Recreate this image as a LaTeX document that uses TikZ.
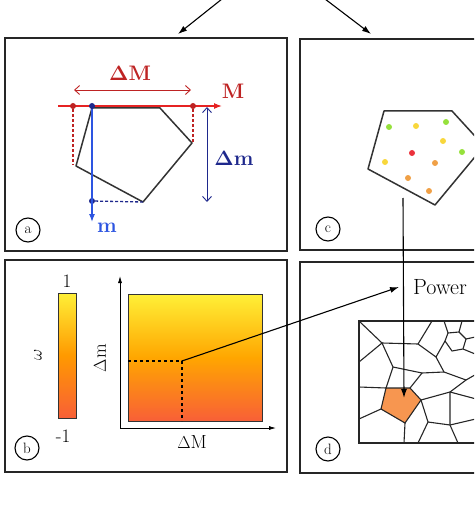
\documentclass[tikz,border=0pt]{standalone}
\usepackage{amsmath}
\usetikzlibrary{calc,arrows.meta}
\definecolor{axisred}{RGB}{230,35,35}
\definecolor{darkred}{RGB}{190,35,35}
\definecolor{axisblue}{RGB}{45,85,225}
\definecolor{darkblue}{RGB}{30,40,140}
\definecolor{cellorange}{RGB}{247,150,80}
\definecolor{hiyellow}{RGB}{255,240,55}
\definecolor{loorange}{RGB}{248,95,55}
\definecolor{seedgreen}{RGB}{150,225,60}
\definecolor{seedyellow}{RGB}{248,215,60}
\definecolor{seedorange}{RGB}{240,160,70}
\definecolor{seedred}{RGB}{235,50,60}
\tikzstyle{panel}=[draw=black!85,line width=1.4pt]
\tikzstyle{tag}=[circle,draw,line width=1.1pt,minimum size=24pt,inner sep=0pt,font=\fontsize{15}{15}\selectfont]
\tikzstyle{poly}=[draw=black!80,line width=1.5pt,line join=round]
\tikzstyle{mesh}=[draw=black!85,line width=1.1pt]
\tikzstyle{dot}=[circle,fill,inner sep=0pt,minimum size=6pt]
\tikzstyle{seed}=[circle,inner sep=0pt,minimum size=6pt]
\tikzstyle{link}=[draw,line width=1.1pt,-{Latex[length=9pt,width=6pt]}]
\tikzstyle{big}=[font=\fontsize{21}{21}\selectfont\bfseries]
\tikzstyle{lbl}=[font=\fontsize{19}{19}\selectfont]

\begin{document}
\begin{tikzpicture}[x=1pt,y=-1pt]
    \useasboundingbox (0,0) rectangle (474,505);
    \clip (0,0) rectangle (474,505);
    % panels
    \draw[panel] (5,38) rectangle (287,251);
    \draw[panel] (300,39) rectangle (490,250);
    \draw[panel] (5,260) rectangle (287,472);
    \draw[panel] (300,262) rectangle (490,473);
    % arrows from above
    \coordinate (srcL) at (222,-1);
    \coordinate (srcR) at (325,-1);
    \coordinate (topA) at (178,34);
    \coordinate (topC) at (371,34);
    \path[link] (srcL) -- (topA);
    \path[link] (srcR) -- (topC);

    % (a) projection of the grain
    \coordinate (p1) at (92,108);
    \coordinate (p2) at (160,108);
    \coordinate (p3) at (192,143);
    \coordinate (p4) at (143,202);
    \coordinate (p5) at (76,166);
    \draw[poly] (p1) -- (p2) -- (p3) -- (p4) -- (p5) -- cycle;
    \coordinate (Mstart) at (58,106);
    \coordinate (Mend) at (222,106);
    \draw[axisred,line width=1.2pt,-{Latex[length=8pt,width=6pt]}] (Mstart) -- (Mend);
    \node[dot,darkred] (Mmin) at (73,106) {};
    \node[dot,darkred] (Mmax) at (193,106) {};
    \coordinate (Mminlow) at (73,165);
    \coordinate (Mmaxlow) at (193,143);
    \draw[darkred,dash pattern=on 3pt off 2pt,line width=1.3pt] (Mmin) -- (Mminlow);
    \draw[darkred,dash pattern=on 3pt off 2pt,line width=1.3pt] (Mmax) -- (Mmaxlow);
    \coordinate (dMl) at (74,90);
    \coordinate (dMr) at (191,90);
    \draw[darkred,line width=0.9pt,{Straight Barb[length=5pt,width=9pt]}-{Straight Barb[length=5pt,width=9pt]}] (dMl) -- (dMr);
    \node[big,darkred] (dMlabel) at (130,73) {$\boldsymbol{\Delta}$M};
    \node[big,darkred] (Mlabel) at (233,91) {M};
    \node[dot,darkblue] (mtop) at (92,106) {};
    \node[dot,darkblue] (mlow) at (92,201) {};
    \coordinate (mend) at (92,222);
    \draw[axisblue,line width=1.2pt,-{Latex[length=8pt,width=6pt]}] (mtop) -- (mend);
    \draw[darkblue,dash pattern=on 3pt off 2pt,line width=1.3pt] (mlow) -- (p4);
    \coordinate (dmt) at (207,107);
    \coordinate (dmb) at (207,202);
    \draw[darkblue,line width=0.9pt,{Straight Barb[length=5pt,width=9pt]}-{Straight Barb[length=5pt,width=9pt]}] (dmt) -- (dmb);
    \node[big,darkblue] (dmlabel) at (234,158) {$\boldsymbol{\Delta}$m};
    \node[big,axisblue] (mlabel) at (107,228) {m};
    \node[tag] (taga) at (28,230) {a};

    % (c) grain with seeds
    \draw[poly] (384,111) -- (452,111) -- (484,146) -- (435,205) -- (368,169) -- cycle;
    \node[seed,fill=seedgreen] (s1) at (389,127) {};
    \node[seed,fill=seedyellow] (s2) at (416,126) {};
    \node[seed,fill=seedgreen] (s3) at (446,122) {};
    \node[seed,fill=seedyellow] (s4) at (443,141) {};
    \node[seed,fill=seedgreen] (s5) at (462,152) {};
    \node[seed,fill=seedred] (s6) at (412,153) {};
    \node[seed,fill=seedyellow] (s7) at (385,162) {};
    \node[seed,fill=seedorange] (s8) at (435,163) {};
    \node[seed,fill=seedorange] (s9) at (408,178) {};
    \node[seed,fill=seedorange] (s10) at (429,191) {};
    \node[tag] (tagc) at (328,229) {c};

    % (b) weight map
    \shade[top color=hiyellow,bottom color=loorange,middle color=orange!80!yellow] (58,293) rectangle (76,418);
    \draw[black!80,line width=1pt] (58,293) rectangle (76,418);
    \node[lbl] (wtop) at (67,281) {1};
    \node[lbl] (wbot) at (63,436) {-1};
    \node[lbl,rotate=90] (omega) at (38,355) {$\omega$};
    \coordinate (origin) at (120,428);
    \coordinate (yend) at (120,276);
    \coordinate (xend) at (276,428);
    \draw[line width=0.8pt,-{Latex[length=7pt,width=4pt]}] (origin) -- (yend);
    \draw[line width=0.8pt,-{Latex[length=7pt,width=4pt]}] (origin) -- (xend);
    \shade[top color=hiyellow,bottom color=loorange,middle color=orange!70!yellow] (128,294) rectangle (262,421);
    \draw[black!80,line width=1pt] (128,294) rectangle (262,421);
    \node[lbl,rotate=90] (ylabel) at (100,358) {$\Delta$m};
    \node[lbl] (xlabel) at (192,442) {$\Delta$M};
    \coordinate (q) at (182,361);
    \draw[dashed,line width=1.4pt] (128,361) -- (q) -- (182,421);
    \node[tag] (tagb) at (27,448) {b};

    % (d) power diagram
    \node[font=\fontsize{22}{22}\selectfont,anchor=west,inner sep=0pt] (power) at (413,287) {Power};
    \coordinate (cell) at (404,398);
    \fill[cellorange] (386,388) -- (410,388) -- (421,400) -- (405,423) -- (381,409) -- cycle;
    \begin{scope}
        \clip (359,321) rectangle (480,443);
        \draw[mesh] (359,321) -- (382,343) -- (359,362);
        \draw[mesh] (382,343) -- (418,344) -- (432,321);
        \draw[mesh] (382,343) -- (393,367) -- (422,373);
        \draw[mesh] (393,367) -- (386,388) -- (359,387);
        \draw[mesh] (386,388) -- (410,388) -- (421,400) -- (405,423) -- (381,409) -- cycle;
        \draw[mesh] (381,409) -- (359,419);
        \draw[mesh] (405,423) -- (404,443);
        \draw[mesh] (421,400) -- (428,422) -- (418,443);
        \draw[mesh] (428,422) -- (450,425) -- (480,418);
        \draw[mesh] (450,425) -- (458,443);
        \draw[mesh] (410,388) -- (422,373) -- (444,372);
        \draw[mesh] (418,344) -- (436,357) -- (445,341);
        \draw[mesh] (436,357) -- (444,372) -- (466,380) -- (480,372);
        \draw[mesh] (448,333) -- (459,332) -- (466,339) -- (463,349) -- (452,351) -- (445,341) -- cycle;
        \draw[mesh] (448,333) -- (444,321);
        \draw[mesh] (459,332) -- (462,321);
        \draw[mesh] (466,339) -- (480,336);
        \draw[mesh] (463,349) -- (480,356);
        \draw[mesh] (421,400) -- (450,392) -- (480,400);
        \draw[mesh] (466,380) -- (450,392) -- (450,425);
    \end{scope}
    \draw[black!85,line width=1.4pt] (480,321) -- (359,321) -- (359,443) -- (480,443);
    \node[tag] (tagd) at (328,449) {d};

    % connectors between panels
    \coordinate (grain) at (403,198);
    \coordinate (powertip) at (399,287);
    \path[link] (q) -- (powertip);
    \path[link] (grain) -- (cell);
\end{tikzpicture}
\end{document}
